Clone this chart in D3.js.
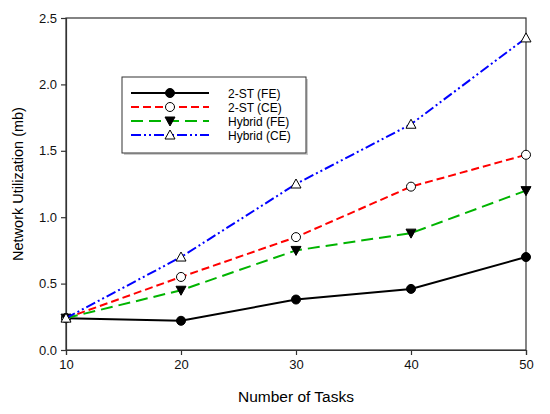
<!DOCTYPE html>
<html>
<head>
<meta charset="utf-8">
<script src="https://cdn.jsdelivr.net/npm/d3@7"></script>
<style>
  body { margin: 0; background: #fff; }
  text { font-family: Arial, "Liberation Sans", sans-serif; }
</style>
</head>
<body>
<div id="chart"></div>
<script>
// data
var tasks = [10, 20, 30, 40, 50];
var seriesNames = ["2-ST (FE)", "2-ST (CE)", "Hybrid (FE)", "Hybrid (CE)"];
var stFE = [0.24, 0.22, 0.38, 0.46, 0.70];
var stCE = [0.24, 0.55, 0.85, 1.23, 1.47];
var hybridFE = [0.24, 0.45, 0.75, 0.88, 1.20];
var hybridCE = [0.24, 0.70, 1.25, 1.70, 2.35];
var yTicks = [0.0, 0.5, 1.0, 1.5, 2.0, 2.5];

var styles = [
    {color: "#000000", dash: null, marker: "circle", fill: "#000"},
    {color: "#ff0000", dash: "8,4", marker: "circle", fill: "#fff"},
    {color: "#00b400", dash: "12,6", marker: "down", fill: "#000"},
    {color: "#0000ff", dash: "10,3,2,3,2,3", marker: "up", fill: "#fff"}
];
var allValues = [stFE, stCE, hybridFE, hybridCE];

var width = 550, height = 414;
var margin = {left: 66, top: 18, right: 24, bottom: 64};

var svg = d3.select("#chart").append("svg")
    .attr("width", width)
    .attr("height", height);

var x = d3.scaleLinear().domain([10, 50]).range([margin.left, width - margin.right]);
var y = d3.scaleLinear().domain([0, 2.5]).range([height - margin.bottom, margin.top]);

// frame
svg.append("rect")
    .attr("x", x(10)).attr("y", y(2.5))
    .attr("width", x(50) - x(10)).attr("height", y(0) - y(2.5))
    .attr("fill", "none").attr("stroke", "#333").attr("stroke-width", 1.2);

var xAxis = svg.append("g")
    .attr("transform", "translate(0," + y(0) + ")")
    .call(d3.axisBottom(x).tickValues(tasks).tickSize(5).tickPadding(5).tickFormat(d3.format("d")));
var yAxis = svg.append("g")
    .attr("transform", "translate(" + x(10) + ",0)")
    .call(d3.axisLeft(y).tickValues(yTicks).tickSize(5).tickPadding(4).tickFormat(d3.format(".1f")));

[xAxis, yAxis].forEach(function (g) {
    g.select(".domain").attr("stroke", "#333").attr("stroke-width", 1.2);
    g.selectAll(".tick line").attr("stroke", "#333").attr("stroke-width", 1.2);
    g.selectAll(".tick text")
        .style("font-family", "Arial, 'Liberation Sans', sans-serif")
        .style("font-size", "13px")
        .attr("fill", "#111");
});

svg.append("text")
    .attr("x", (x(10) + x(50)) / 2)
    .attr("y", 402)
    .style("text-anchor", "middle")
    .style("font-size", "15.5px")
    .text("Number of Tasks");

svg.append("text")
    .attr("transform", "translate(23," + (y(0) + y(2.5)) / 2 + ") rotate(-90)")
    .style("text-anchor", "middle")
    .style("font-size", "14.5px")
    .text("Network Utilization (mb)");

function drawMarker(g, type, cx, cy, fill) {
    if (type === "circle") {
        g.append("circle").attr("cx", cx).attr("cy", cy).attr("r", 4.5)
            .attr("fill", fill).attr("stroke", "#000").attr("stroke-width", 1);
    } else {
        var s = 5;
        var pts = type === "up"
            ? [[cx, cy - s], [cx - s, cy + s * 0.8], [cx + s, cy + s * 0.8]]
            : [[cx, cy + s], [cx - s, cy - s * 0.8], [cx + s, cy - s * 0.8]];
        g.append("path").attr("d", "M" + pts.join("L") + "Z")
            .attr("fill", fill).attr("stroke", "#000").attr("stroke-width", 1);
    }
}

var line = d3.line()
    .x(function (d, i) { return x(tasks[i]); })
    .y(function (d) { return y(d); });

allValues.forEach(function (vals, k) {
    var st = styles[k];
    var g = svg.append("g");
    g.append("path")
        .datum(vals)
        .attr("d", line)
        .attr("fill", "none")
        .attr("stroke", st.color)
        .attr("stroke-width", 2)
        .attr("stroke-dasharray", st.dash);
    vals.forEach(function (v, i) {
        drawMarker(g, st.marker, x(tasks[i]), y(v), st.fill);
    });
});

// legend
var lg = svg.append("g");
lg.append("rect")
    .attr("x", 124).attr("y", 79).attr("width", 184).attr("height", 76)
    .attr("fill", "#ccc");
lg.append("rect")
    .attr("x", 122).attr("y", 77).attr("width", 184).attr("height", 76)
    .attr("fill", "#fff").attr("stroke", "#333").attr("stroke-width", 1);

seriesNames.forEach(function (name, k) {
    var st = styles[k];
    var ly = 93 + k * 14;
    lg.append("line")
        .attr("x1", 131).attr("x2", 209).attr("y1", ly).attr("y2", ly)
        .attr("stroke", st.color).attr("stroke-width", 2)
        .attr("stroke-dasharray", st.dash);
    drawMarker(lg, st.marker, 170, ly, st.fill);
    lg.append("text")
        .attr("x", 228).attr("y", ly + 4.5)
        .style("font-size", "12px")
        .text(name);
});
</script>
</body>
</html>
